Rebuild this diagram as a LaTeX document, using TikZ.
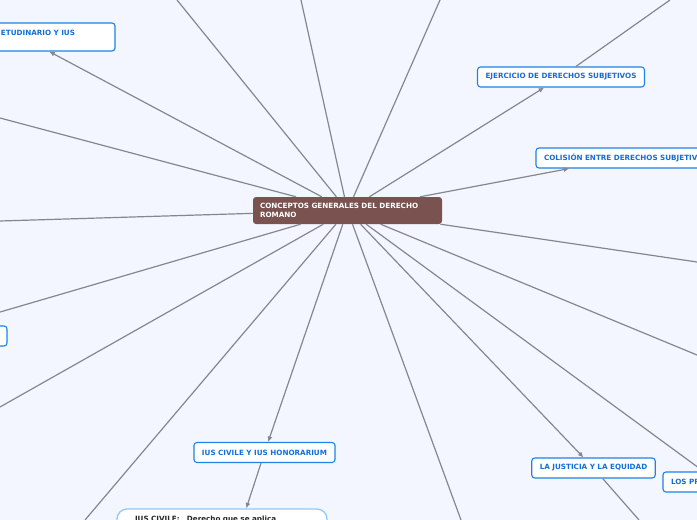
\documentclass[tikz,border=0pt]{standalone}
\usepackage{fontspec}
\setmainfont{DejaVu Sans}
\usetikzlibrary{arrows.meta}
\definecolor{fondo}{RGB}{243,246,254}
\definecolor{marron}{RGB}{122,82,80}
\definecolor{azul}{RGB}{30,130,230}
\definecolor{azultexto}{RGB}{20,110,215}
\definecolor{celeste}{RGB}{150,200,245}
\definecolor{gris}{RGB}{134,134,146}
\newcommand{\letra}{\fontsize{7.2}{8.8}\selectfont\bfseries}
\begin{document}
\begin{tikzpicture}[x=1pt,y=-1pt]
\tikzstyle{central}=[rectangle,rounded corners=3pt,fill=marron,text=white,font=\letra,text width=175pt,align=left,inner xsep=7pt,minimum height=27pt]
\tikzstyle{tema}=[rectangle,rounded corners=3pt,draw=azul,line width=1.1pt,fill=white,text=azultexto,font=\letra,inner xsep=8pt,minimum height=20pt]
\tikzstyle{nota}=[rectangle,rounded corners=10pt,draw=celeste,line width=1.3pt,fill=white,text=black!85,font=\letra,text width=174pt,align=left,inner xsep=18pt,inner ysep=7.5pt,text depth=126.5pt]
\tikzstyle{rama}=[draw=gris,line width=1.2pt]
\tikzstyle{flecha}=[rama,-{Latex[length=5.5pt,width=5pt]}]
\useasboundingbox (0,0) rectangle (697,520);
\fill[fondo] (0,0) rectangle (697,520);
\clip (0,0) rectangle (697,520);
% nodos
\node[central] (cn) at (347.5,210.5) {CONCEPTOS GENERALES DEL DERECHO\\ROMANO};
\node[tema,minimum width=186pt,text width=170pt,align=left,minimum height=28pt,text depth=9pt] (cost) at (22,37) {\hspace*{64pt}ETUDINARIO Y IUS};
\node[tema,minimum width=178pt] (izq) at (-82,336) {};
\node[tema] (ejer) at (561,77) {EJERCICIO DE DERECHOS SUBJETIVOS};
\node[tema,text width=162pt,align=left] (coli) at (625,158) {COLISIÓN ENTRE DERECHOS SUBJETIV};
\node[tema] (ich) at (264.5,452.5) {IUS CIVILE Y IUS HONORARIUM};
\node[tema] (just) at (593.5,468) {LA JUSTICIA Y LA EQUIDAD};
\node[tema,text width=94pt,align=left] (prin) at (718,482) {LOS PR};
\node[nota] (icv) at (222,582.5) {IUS CIVILE:~~ Derecho que se aplica};
% ramas que salen del cuadro
\coordinate (o1) at (0,118);
\coordinate (o2) at (177,0);
\coordinate (o3) at (301,0);
\coordinate (o4) at (440,0);
\coordinate (o5) at (0,221);
\coordinate (o6) at (0,407);
\coordinate (o7) at (85,520);
\coordinate (o8) at (461,520);
\coordinate (o9) at (697,355);
\coordinate (o10) at (697,262);
\coordinate (o11) at (670,0);
\coordinate (o12) at (639,520);
\foreach \p in {o1,o2,o3,o4,o5,o6,o7,o8,o9,o10}
  \draw[rama] (cn) -- (\p);
\draw[rama] (ejer) -- (o11);
\draw[rama] (just) -- (o12);
% flechas
\foreach \h in {cost,izq,ejer,coli,ich,just,prin}
  \draw[flecha] (cn) -- (\h);
\draw[flecha] (ich) -- (icv);
\end{tikzpicture}
\end{document}
